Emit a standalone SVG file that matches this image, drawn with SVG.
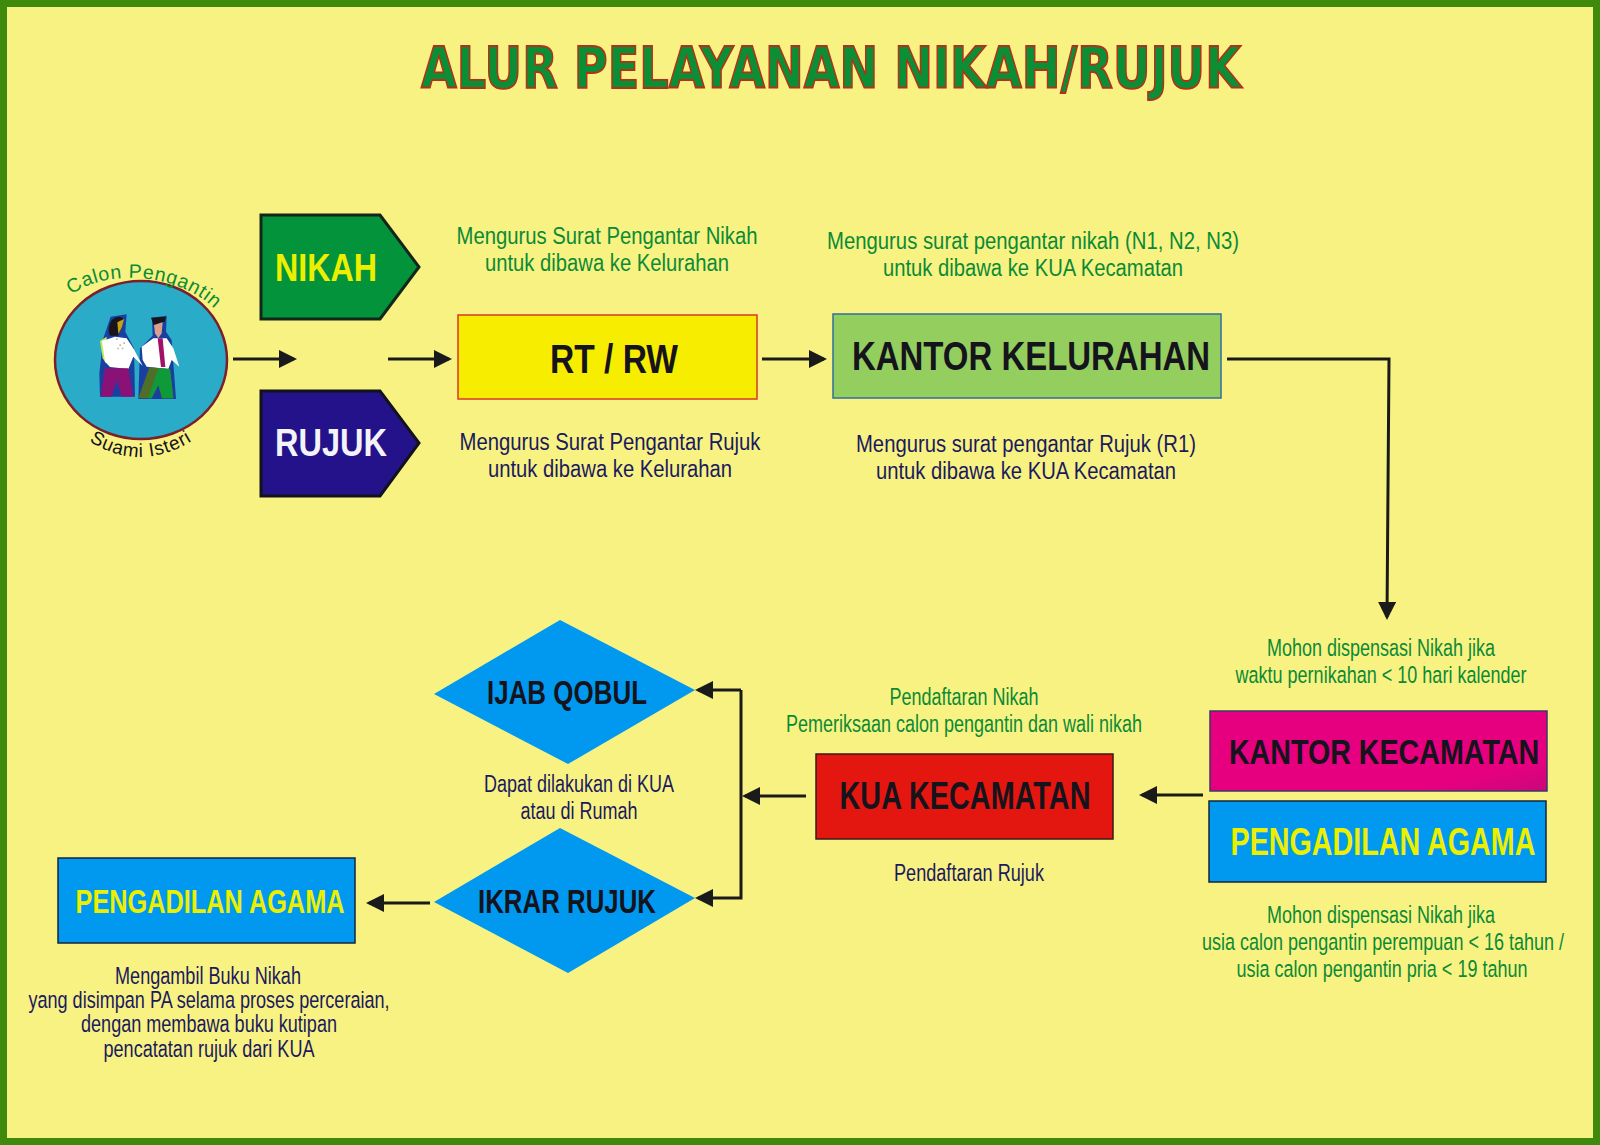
<svg xmlns="http://www.w3.org/2000/svg" width="1600" height="1145" viewBox="0 0 1600 1145">
<style>
text{font-family:"Liberation Sans",Arial,sans-serif}
.g{fill:#0b8a35;font-size:23.500px}
.n{fill:#1b1a5e;font-size:23.500px}
.b{font-weight:700;font-size:41px;fill:#15131c}
.y{font-weight:700;font-size:38px;fill:#ecf000}
.c{stroke:#1a1a1a;stroke-width:3;fill:none}
</style>
<defs>
<marker id="ah" markerUnits="userSpaceOnUse" markerWidth="20" markerHeight="20" refX="15" refY="9" orient="auto"><path d="M0 0L18 9L0 18Z" fill="#1a1a1a"/></marker>
<linearGradient id="mg" x1="0" y1="0" x2="1" y2="1"><stop offset="0" stop-color="#e6007f"/><stop offset=".8" stop-color="#e6007f"/><stop offset="1" stop-color="#c9087a"/></linearGradient>
<path id="top" d="M67 299C95 270 175 268 217 311"/>
<path id="bot" d="M89 441Q139 473 192 441"/>
</defs>
<rect x="3.500" y="3.500" width="1593" height="1138" fill="#f8f283" stroke="#3f8a0c" stroke-width="7"/>
<text x="831" y="88" text-anchor="middle" textLength="820" lengthAdjust="spacingAndGlyphs" style="font-family:'DejaVu Sans',sans-serif;font-size:57px;font-weight:700;fill:#0b8f35;stroke:#b5301c;stroke-width:1.800px">ALUR PELAYANAN NIKAH/RUJUK</text>
<g id="connectors">
<path class="c" marker-end="url(#ah)" d="M233 359H294"/>
<path class="c" marker-end="url(#ah)" d="M388 359H449"/>
<path class="c" marker-end="url(#ah)" d="M762 359H824"/>
<path class="c" marker-end="url(#ah)" d="M1227 359H1389L1387 617"/>
<path class="c" marker-end="url(#ah)" d="M1203 795H1142"/>
<path class="c" marker-end="url(#ah)" d="M806 796H745"/>
<path class="c" marker-end="url(#ah)" d="M741 690H698"/>
<path class="c" marker-end="url(#ah)" d="M741 690V898H698"/>
<path class="c" marker-end="url(#ah)" d="M430 903H369"/>
</g>
<g id="calon">
<ellipse cx="141" cy="360" rx="86" ry="79" fill="#2aabc8" stroke="#7b1f2a" stroke-width="2.500"/>
<g transform="translate(90 305) scale(.3333)">
<path fill="#1b3fa0" d="M62 35L110 28L106 80L132 130L135 275H30L28 205L40 100ZM150 130L188 92L186 38L230 32L228 80L245 105L258 282H145Z"/>
<path fill="#17141a" d="M65 45Q85 28 100 40L92 60L85 92L60 92Q50 70 65 45ZM183 38L228 35L224 50L210 53L192 62Z"/>
<path fill="#c9a010" d="M82 52L102 42L96 65L85 87Z"/>
<path fill="#d9a08c" d="M192 60L218 52L215 85L205 100L195 85Z"/>
<path fill="#c8e85a" d="M30 108L50 95L48 175L38 160Z"/>
<path fill="#fff" d="M36 108L75 95L110 100L130 130L158 182L130 155L115 192L60 186L45 170ZM155 125L190 100L230 100L250 130L268 185L245 165L235 192L170 185L158 165Z"/>
<path fill="#c3b8b0" d="M78 100l5 0 0 5-5 0zM88 118l5 0 0 5-5 0zM95 128l5 0 0 5-5 0zM82 128l5 0 0 5-5 0zM100 112l5 0 0 5-5 0z"/>
<path fill="#a01268" d="M203 100L218 100L226 186L213 186Z"/>
<path fill="#8a1276" d="M45 190L115 190L130 275L95 275L80 225L65 275L32 275Z"/>
<path fill="#4f6f28" d="M178 187L240 192L250 280L215 280L205 240L185 280L145 280Z"/>
<path fill="#0f9a3a" d="M205 190L240 192L250 280L218 280L205 240L185 280L175 280Z"/>
</g>
<text fill="#0b8a35" style="font-size:19.500px" letter-spacing=".7"><textPath href="#top" startOffset="6">Calon Pengantin</textPath></text>
<text fill="#15131c" style="font-size:19px" letter-spacing=".8"><textPath href="#bot">Suami Isteri</textPath></text>
</g>
<g id="nikah"><path d="M261 215H380L419 267L380 319H261Z" fill="#03933a" stroke="#12261a" stroke-width="3"/><text x="326" y="281" text-anchor="middle" textLength="102" lengthAdjust="spacingAndGlyphs" class="y">NIKAH</text></g>
<g id="rujuk"><path d="M261 391H380L419 443L380 496H261Z" fill="#24128a" stroke="#12121f" stroke-width="3"/><text x="331" y="456" text-anchor="middle" textLength="112" lengthAdjust="spacingAndGlyphs" style="font-weight:700;font-size:38px;fill:#f3f3f8">RUJUK</text></g>
<g id="rtrw"><rect x="458" y="315" width="299" height="84" fill="#f7ed00" stroke="#d8382a" stroke-width="1.500"/><text x="614" y="373" text-anchor="middle" textLength="128" lengthAdjust="spacingAndGlyphs" class="b">RT / RW</text></g>
<g id="kelurahan"><rect x="833" y="314" width="388" height="84" fill="#93ce5e" stroke="#2f6fa0" stroke-width="1.500"/><text x="1031" y="370" text-anchor="middle" textLength="358" lengthAdjust="spacingAndGlyphs" class="b">KANTOR KELURAHAN</text></g>
<g id="kecamatan"><rect x="1210" y="711" width="337" height="80" fill="url(#mg)" stroke="#3a3a66" stroke-width="1.500"/><text transform="translate(1384 764) scale(.796 1)" text-anchor="middle" class="b" style="font-size:36px">KANTOR KECAMATAN</text></g>
<g id="pa1"><rect x="1209" y="801" width="337" height="81" fill="#0099ef" stroke="#12263a" stroke-width="1.500"/><text transform="translate(1383 855) scale(.755 1)" text-anchor="middle" class="y">PENGADILAN AGAMA</text></g>
<g id="kua"><rect x="816" y="754" width="297" height="85" fill="#e3170f" stroke="#3a1a1a" stroke-width="1.500"/><text x="965" y="809" text-anchor="middle" textLength="251" lengthAdjust="spacingAndGlyphs" class="b" style="font-size:38px">KUA KECAMATAN</text></g>
<g id="ijab"><path d="M434 694L560 620L695 690L568 764Z" fill="#0099ef"/><text x="567" y="704" text-anchor="middle" textLength="160" lengthAdjust="spacingAndGlyphs" class="b" style="font-size:34px">IJAB QOBUL</text></g>
<g id="ikrar"><path d="M434 902L560 828L695 898L568 973Z" fill="#0099ef"/><text x="567" y="913" text-anchor="middle" textLength="178" lengthAdjust="spacingAndGlyphs" class="b" style="font-size:34px">IKRAR RUJUK</text></g>
<g id="pa2"><rect x="58" y="858" width="297" height="85" fill="#0099ef" stroke="#12263a" stroke-width="1.500"/><text x="210" y="913" text-anchor="middle" textLength="269" lengthAdjust="spacingAndGlyphs" class="y" style="font-size:34px">PENGADILAN AGAMA</text></g>
<g id="labels">
<text class="g" x="607" y="244" text-anchor="middle" textLength="301" lengthAdjust="spacingAndGlyphs">Mengurus Surat Pengantar Nikah</text>
<text class="g" x="607" y="271" text-anchor="middle" textLength="244" lengthAdjust="spacingAndGlyphs">untuk dibawa ke Kelurahan</text>
<text class="g" x="1033" y="249" text-anchor="middle" textLength="412" lengthAdjust="spacingAndGlyphs">Mengurus surat pengantar nikah (N1, N2, N3)</text>
<text class="g" x="1033" y="276" text-anchor="middle" textLength="300" lengthAdjust="spacingAndGlyphs">untuk dibawa ke KUA Kecamatan</text>
<text class="n" x="610" y="450" text-anchor="middle" textLength="301" lengthAdjust="spacingAndGlyphs">Mengurus Surat Pengantar Rujuk</text>
<text class="n" x="610" y="477" text-anchor="middle" textLength="244" lengthAdjust="spacingAndGlyphs">untuk dibawa ke Kelurahan</text>
<text class="n" x="1026" y="452" text-anchor="middle" textLength="340" lengthAdjust="spacingAndGlyphs">Mengurus surat pengantar Rujuk (R1)</text>
<text class="n" x="1026" y="479" text-anchor="middle" textLength="300" lengthAdjust="spacingAndGlyphs">untuk dibawa ke KUA Kecamatan</text>
<text class="g" x="1381" y="656" text-anchor="middle" textLength="228" lengthAdjust="spacingAndGlyphs">Mohon dispensasi Nikah jika</text>
<text class="g" transform="translate(1381 683) scale(.767 1)" text-anchor="middle">waktu pernikahan &lt; 10 hari kalender</text>
<text class="g" x="964" y="705" text-anchor="middle" textLength="149" lengthAdjust="spacingAndGlyphs">Pendaftaran Nikah</text>
<text class="g" x="964" y="732" text-anchor="middle" textLength="356" lengthAdjust="spacingAndGlyphs">Pemeriksaan calon pengantin dan wali nikah</text>
<text class="n" x="579" y="792" text-anchor="middle" textLength="190" lengthAdjust="spacingAndGlyphs">Dapat dilakukan di KUA</text>
<text class="n" x="579" y="819" text-anchor="middle" textLength="117" lengthAdjust="spacingAndGlyphs">atau di Rumah</text>
<text class="n" x="969" y="881" text-anchor="middle" textLength="150" lengthAdjust="spacingAndGlyphs">Pendaftaran Rujuk</text>
<text class="g" x="1381" y="923" text-anchor="middle" textLength="228" lengthAdjust="spacingAndGlyphs">Mohon dispensasi Nikah jika</text>
<text class="g" transform="translate(1383 950) scale(.767 1)" text-anchor="middle">usia calon pengantin perempuan &lt; 16 tahun /</text>
<text class="g" transform="translate(1382 977) scale(.767 1)" text-anchor="middle">usia calon pengantin pria &lt; 19 tahun</text>
<text class="n" x="208" y="984" text-anchor="middle" textLength="186" lengthAdjust="spacingAndGlyphs">Mengambil Buku Nikah</text>
<text class="n" transform="translate(209 1008) scale(.769 1)" text-anchor="middle">yang disimpan PA selama proses perceraian,</text>
<text class="n" x="209" y="1032" text-anchor="middle" textLength="256" lengthAdjust="spacingAndGlyphs">dengan membawa buku kutipan</text>
<text class="n" x="209" y="1057" text-anchor="middle" textLength="211" lengthAdjust="spacingAndGlyphs">pencatatan rujuk dari KUA</text>
</g>
</svg>
